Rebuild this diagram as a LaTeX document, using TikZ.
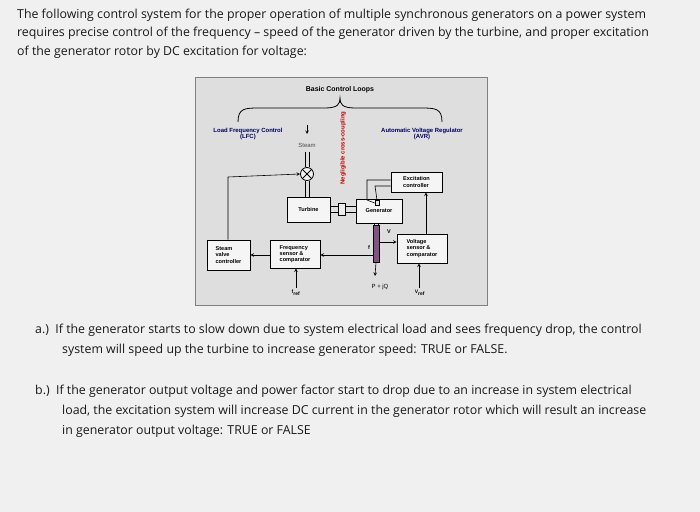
\documentclass[tikz,border=0pt]{standalone}
\usepackage{fontspec}
\setmainfont{Open Sans}
\setsansfont{Liberation Sans}
\begin{document}
\begin{tikzpicture}[x=1bp,y=-1bp,
 para/.style={anchor=west,inner sep=0,font=\fontsize{12.4}{14}\selectfont,text=black!90},
 blk/.style={draw,thick,fill=white!92!gray,align=left,font=\sffamily\bfseries\fontsize{5.6}{6.2}\selectfont,inner sep=1.5pt},
 lbl/.style={font=\sffamily\bfseries\fontsize{6}{6.6}\selectfont,align=center,text=blue!40!black},
 sm/.style={font=\sffamily\fontsize{6}{6.5}\selectfont},
 arr/.style={->,>=stealth,semithick}]
\fill[black!6] (0,0) rectangle (700,512);
\node[para] (l1) at (17,15) {The following control system for the proper operation of multiple synchronous generators on a power system};
\node[para] (l2) at (17,33) {requires precise control of the frequency -- speed of the generator driven by the turbine, and proper excitation};
\node[para] (l3) at (17,52) {of the generator rotor by DC excitation for voltage:};
\node[para] (qa) at (35,330) {a.)\ \ If the generator starts to slow down due to system electrical load and sees frequency drop, the control};
\node[para] (qa2) at (62,350) {system will speed up the turbine to increase generator speed: TRUE or FALSE.};
\node[para] (qb) at (35,391) {b.)\ \ If the generator output voltage and power factor start to drop due to an increase in system electrical};
\node[para] (qb2) at (62,411) {load, the excitation system will increase DC current in the generator rotor which will result an increase};
\node[para] (qb3) at (62,431) {in generator output voltage: TRUE or FALSE};
% diagram frame
\draw[black!50,fill=black!13] (195,77) rectangle (487,305);
\node[font=\sffamily\bfseries\fontsize{7}{7.5}\selectfont] (title) at (340,90) {Basic Control Loops};
\draw[thick] (238,122) .. controls (238,108) and (245,108) .. (260,108) -- (325,108) .. controls (338,108) and (340,104) .. (340,98)
 .. controls (340,104) and (342,108) .. (355,108) -- (420,108) .. controls (435,108) and (442,108) .. (442,122);
\node[lbl] (lfc) at (248,134) {Load Frequency Control\\(LFC)};
\node[lbl] (avr) at (422,134) {Automatic Voltage Regulator\\(AVR)};
\coordinate (st0) at (307,125);
\node[sm,text=black!70] (steam) at (307,145) {Steam};
\draw[arr] (st0) -- ++(0,9);
\node[draw,thick,circle,minimum size=13bp,inner sep=0,fill=white!90!gray] (valve) at (307,174) {};
\draw[thick] (valve.north west) -- (valve.south east) (valve.north east) -- (valve.south west);
\draw[thick] (305,152) -- (305,167.3) (309.5,152) -- (309.5,167.3);
\node[blk,minimum width=43bp,minimum height=25bp] (turb) at (308.5,209.5) {Turbine};
\draw[thick] (305,180.7) -- (turb.north -| 305,0) (309.5,180.7) -- (turb.north -| 309.5,0);
\node[blk,minimum width=46bp,minimum height=24bp] (gen) at (379,211) {\raisebox{-3pt}{Generator}};
\node[draw,thick,fill=white!85!gray,minimum width=7bp,minimum height=12bp,inner sep=0] (coup) at (341.5,209) {};
\draw[thick] (turb.east |- 0,206) -- (coup.west |- 0,206) (turb.east |- 0,212) -- (coup.west |- 0,212);
\draw[thick] (coup.east |- 0,206) -- (gen.west |- 0,206) (coup.east |- 0,212) -- (gen.west |- 0,212);
\node[blk,minimum width=51bp,minimum height=20bp] (exc) at (416.5,182) {Excitation\\controller};
\node[draw,thick,fill=white!80!gray,minimum width=4bp,minimum height=5bp,inner sep=0] (rot) at (377,203) {};
\draw[semithick] (exc.west |- 0,180) -- (367,180) -- (367,200) -- (rot.west);
\draw[semithick] (exc.west |- 0,186) -- (375,186) -- (rot.north);
\node[draw,thick,fill=violet!35!gray,minimum width=6bp,minimum height=37bp,inner sep=0] (bus) at (376,243.5) {};
\draw[thick] (374,223) -- (374,225) (378,223) -- (378,225);
\node[blk,minimum width=50bp,minimum height=29bp] (vs) at (422,248.5) {Voltage\\sensor \&\\comparator};
\node[blk,minimum width=50bp,minimum height=28bp] (fs) at (295,254) {Frequency\\sensor \&\\comparator};
\node[blk,minimum width=43bp,minimum height=30bp] (sv) at (228.5,255) {Steam\\valve\\controller};
\draw[arr] (bus.east |- 0,242) -- (vs.west |- 0,242);
\node[font=\sffamily\bfseries\fontsize{5.5}{5.5}\selectfont] (vl) at (389,232) {V};
\draw[arr] (bus.west |- 0,255) -- (fs.east |- 0,255);
\node[font=\sffamily\bfseries\fontsize{5.5}{5.5}\selectfont] (fl) at (369,248) {f};
\draw[arr] (fs.west |- 0,255) -- (sv.east |- 0,255);
\draw[arr] (sv.north -| 228,0) -- (228,177) -- (valve.west);
\draw[arr] (vs.north -| 426,0) -- (exc.south -| 426,0);
\coordinate (fr) at (296,288);
\coordinate (vr) at (419,288);
\draw[arr] (fr) -- (fs.south -| fr);
\draw[arr] (vr) -- (vs.south -| vr);
\node[font=\sffamily\bfseries\fontsize{5}{5}\selectfont] (frl) at (296,293) {f\textsubscript{ref}};
\node[font=\sffamily\bfseries\fontsize{5}{5}\selectfont] (vrl) at (420,293) {V\textsubscript{ref}};
\coordinate (pq) at (375,276);
\draw[arr] (bus.south) -- (pq);
\node[sm] (pql) at (380,287) {P + jQ};
\node[rotate=90,font=\sffamily\bfseries\fontsize{6}{6.5}\selectfont,text=red!75!black] (neg) at (343,148) {Negligible cross-coupling};
\end{tikzpicture}
\end{document}
